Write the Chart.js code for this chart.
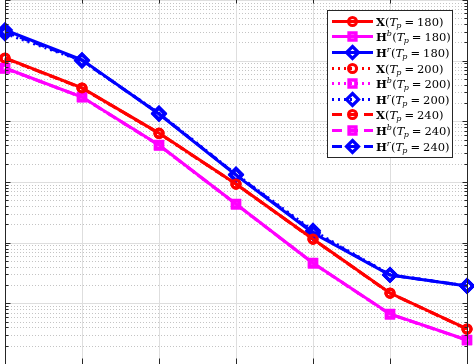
<!DOCTYPE html>
<html><head><meta charset="utf-8">
<script src="https://cdn.jsdelivr.net/npm/chart.js@4.4.1/dist/chart.umd.min.js"></script>
<style>html,body{margin:0;padding:0;background:#fff;overflow:hidden}canvas{display:block}</style>
</head><body><canvas id="c" width="474" height="364"></canvas>
<script>
// ---- data (x categories are unlabeled in the cropped reference) ----
const categories = ['1','2','3','4','5','6','7'];
const tpValues = [180, 200, 240];
const X_180  = [0.111, 0.0355, 6.4e-3, 9.3e-4, 1.15e-4, 1.48e-5, 3.78e-6];
const Hb_180 = [0.0757, 0.0252, 4.07e-3, 4.34e-4, 4.62e-5, 6.67e-6, 2.49e-6];
const Hr_180 = [0.32, 0.103, 1.32e-2, 1.30e-3, 1.44e-4, 2.93e-5, 1.93e-5];
const X_200  = [0.109, 0.0352, 6.3e-3, 9.2e-4, 1.14e-4, 1.47e-5, 3.75e-6];
const Hb_200 = [0.0745, 0.0250, 4.00e-3, 4.30e-4, 4.58e-5, 6.60e-6, 2.47e-6];
const Hr_200 = [0.28, 0.100, 1.36e-2, 1.34e-3, 1.58e-4, 2.96e-5, 1.94e-5];
const X_240  = [0.110, 0.0353, 6.35e-3, 9.25e-4, 1.14e-4, 1.47e-5, 3.77e-6];
const Hb_240 = [0.0750, 0.0251, 4.03e-3, 4.32e-4, 4.60e-5, 6.63e-6, 2.48e-6];
const Hr_240 = [0.30, 0.101, 1.34e-2, 1.32e-3, 1.50e-4, 2.94e-5, 1.93e-5];
const yMin = 1e-6, yMax = 1;

const RED='#ff0000', MAG='#ff00ff', BLUE='#0000ff';
const dashFor = {180: [], 200: [2, 4], 240: [10, 6]};

function mk(main, sup, tp, data, color, style, radius, pbw){
  return {
    label: main + (sup ? '^' + sup : '') + '(T_p = ' + tp + ')',
    mathMain: main, mathSup: sup, tp: tp,
    data: data, borderColor: color, backgroundColor: color,
    borderWidth: 3, borderDash: dashFor[tp],
    pointStyle: style, pointRadius: radius, pointHoverRadius: radius,
    pointBorderWidth: pbw, pointBackgroundColor: 'rgba(0,0,0,0)', pointBorderColor: color,
    tension: 0, clip: false
  };
}
const datasets = [
  mk('X','',tpValues[0],X_180,RED,'circle',4,3),
  mk('H','b',tpValues[0],Hb_180,MAG,'rect',4.8,3.5),
  mk('H','r',tpValues[0],Hr_180,BLUE,'rectRot',6,3.2),
  mk('X','',tpValues[1],X_200,RED,'circle',4,3),
  mk('H','b',tpValues[1],Hb_200,MAG,'rect',4.8,3.5),
  mk('H','r',tpValues[1],Hr_200,BLUE,'rectRot',6,3.2),
  mk('X','',tpValues[2],X_240,RED,'circle',4,3),
  mk('H','b',tpValues[2],Hb_240,MAG,'rect',4.8,3.5),
  mk('H','r',tpValues[2],Hr_240,BLUE,'rectRot',6,3.2)
];

const AX='#262626';
const gridPlugin = {
  id:'matlabGrid',
  beforeDatasetsDraw(chart){
    const c=chart.ctx, a=chart.chartArea, xs=chart.scales.x, ys=chart.scales.y;
    c.save();
    c.strokeStyle='#c4c4c4'; c.lineWidth=1; c.setLineDash([1,2]);
    for(let e=Math.log10(yMin); e<Math.log10(yMax); e++){
      for(let k=2;k<=9;k++){
        const y=Math.round(ys.getPixelForValue(k*Math.pow(10,e)))+0.5;
        c.beginPath(); c.moveTo(a.left,y); c.lineTo(a.right,y); c.stroke();
      }
    }
    c.setLineDash([]);
    c.strokeStyle='#dedede';
    for(let e=Math.log10(yMin); e<=Math.log10(yMax); e++){
      const y=Math.round(ys.getPixelForValue(Math.pow(10,e)))+0.5;
      c.beginPath(); c.moveTo(a.left,y); c.lineTo(a.right,y); c.stroke();
    }
    categories.forEach((cat,i)=>{
      const x=Math.round(xs.getPixelForValue(i))+0.5;
      c.beginPath(); c.moveTo(x,a.top); c.lineTo(x,a.bottom); c.stroke();
    });
    c.restore();
  },
  afterDatasetsDraw(chart){
    const c=chart.ctx, a=chart.chartArea, xs=chart.scales.x, ys=chart.scales.y;
    c.save();
    c.strokeStyle=AX; c.lineWidth=1;
    const L=Math.round(a.left)+0.5, R=Math.round(a.right)+0.5, T=Math.round(a.top)-0.5, B=Math.round(a.bottom)+0.5;
    c.beginPath(); c.rect(L,T,R-L,B-T); c.stroke();
    c.beginPath();
    categories.forEach((cat,i)=>{
      const x=Math.round(xs.getPixelForValue(i))+0.5;
      c.moveTo(x,B); c.lineTo(x,B-6);
      c.moveTo(x,T); c.lineTo(x,T+4);
    });
    for(let e=Math.log10(yMin); e<=Math.log10(yMax); e++){
      for(let k=1;k<=9;k++){
        const v=k*Math.pow(10,e); if(v>yMax) break;
        const y=Math.round(ys.getPixelForValue(v))+0.5;
        const len = k===1?5:3;
        c.moveTo(L,y); c.lineTo(L+len,y);
        c.moveTo(R,y); c.lineTo(R-len,y);
      }
    }
    c.stroke();
    c.restore();
  }
};

function marker(c, style, x, y, r, bw, color){
  c.save(); c.strokeStyle=color; c.lineWidth=bw; c.setLineDash([]);
  c.beginPath();
  if(style==='circle'){ c.arc(x,y,r,0,Math.PI*2); }
  else if(style==='rect'){ const s=r*Math.SQRT1_2; c.rect(x-s,y-s,2*s,2*s); }
  else { c.moveTo(x,y-r); c.lineTo(x+r,y); c.lineTo(x,y+r); c.lineTo(x-r,y); c.closePath(); }
  c.stroke(); c.restore();
}
const SERIF='"DejaVu Serif", "Liberation Serif", serif';
function label(c, ds, x, y){
  c.fillStyle='#000'; c.textBaseline='alphabetic'; c.textAlign='left';
  const fs=11.5;
  const put=(t,font,dy)=>{ c.font=font; c.fillText(t,x,y+(dy||0)); x+=c.measureText(t).width; };
  put(ds.mathMain,'bold '+fs+'px '+SERIF);
  if(ds.mathSup){ put(ds.mathSup,'italic 8px '+SERIF,-5); x+=0.3; }
  put('(',fs+'px '+SERIF);
  put('T','italic '+fs+'px '+SERIF);
  x-=0.8;
  put('p','italic 8px '+SERIF,2.5);
  x+=3; put('=',fs+'px '+SERIF); x+=3;
  put(String(ds.tp)+')',fs+'px '+SERIF);
}
const legendPlugin = {
  id:'matlabLegend',
  afterDraw(chart){
    const c=chart.ctx;
    const bx=327, by=10, bw=125, bh=147;
    c.save();
    c.fillStyle='#fff'; c.fillRect(bx,by,bw,bh);
    c.strokeStyle=AX; c.lineWidth=1; c.strokeRect(bx+0.5,by+0.5,bw,bh);
    chart.data.datasets.forEach((ds,i)=>{
      const y=Math.round(20.7+i*15.6)+0.5;
      c.strokeStyle=ds.borderColor; c.lineWidth=ds.borderWidth; c.setLineDash(ds.borderDash||[]);
      c.beginPath(); c.moveTo(332,y); c.lineTo(373,y); c.stroke();
      c.setLineDash([]);
      marker(c, ds.pointStyle, 352.5, y, ds.pointRadius, ds.pointBorderWidth, ds.borderColor);
      label(c, ds, 376, y+4);
    });
    c.restore();
  }
};

new Chart(document.getElementById('c'), {
  type:'line',
  data:{ labels: categories, datasets: datasets },
  options:{
    responsive:false, animation:false, devicePixelRatio:1,
    layout:{ autoPadding:false, padding:{ left:5, right:7, top:0, bottom:0 } },
    plugins:{ legend:{display:false}, tooltip:{enabled:false} },
    scales:{
      x:{ type:'category', display:false, offset:false },
      y:{ type:'logarithmic', display:false, min:yMin, max:yMax }
    }
  },
  plugins:[gridPlugin, legendPlugin]
});
</script></body></html>
